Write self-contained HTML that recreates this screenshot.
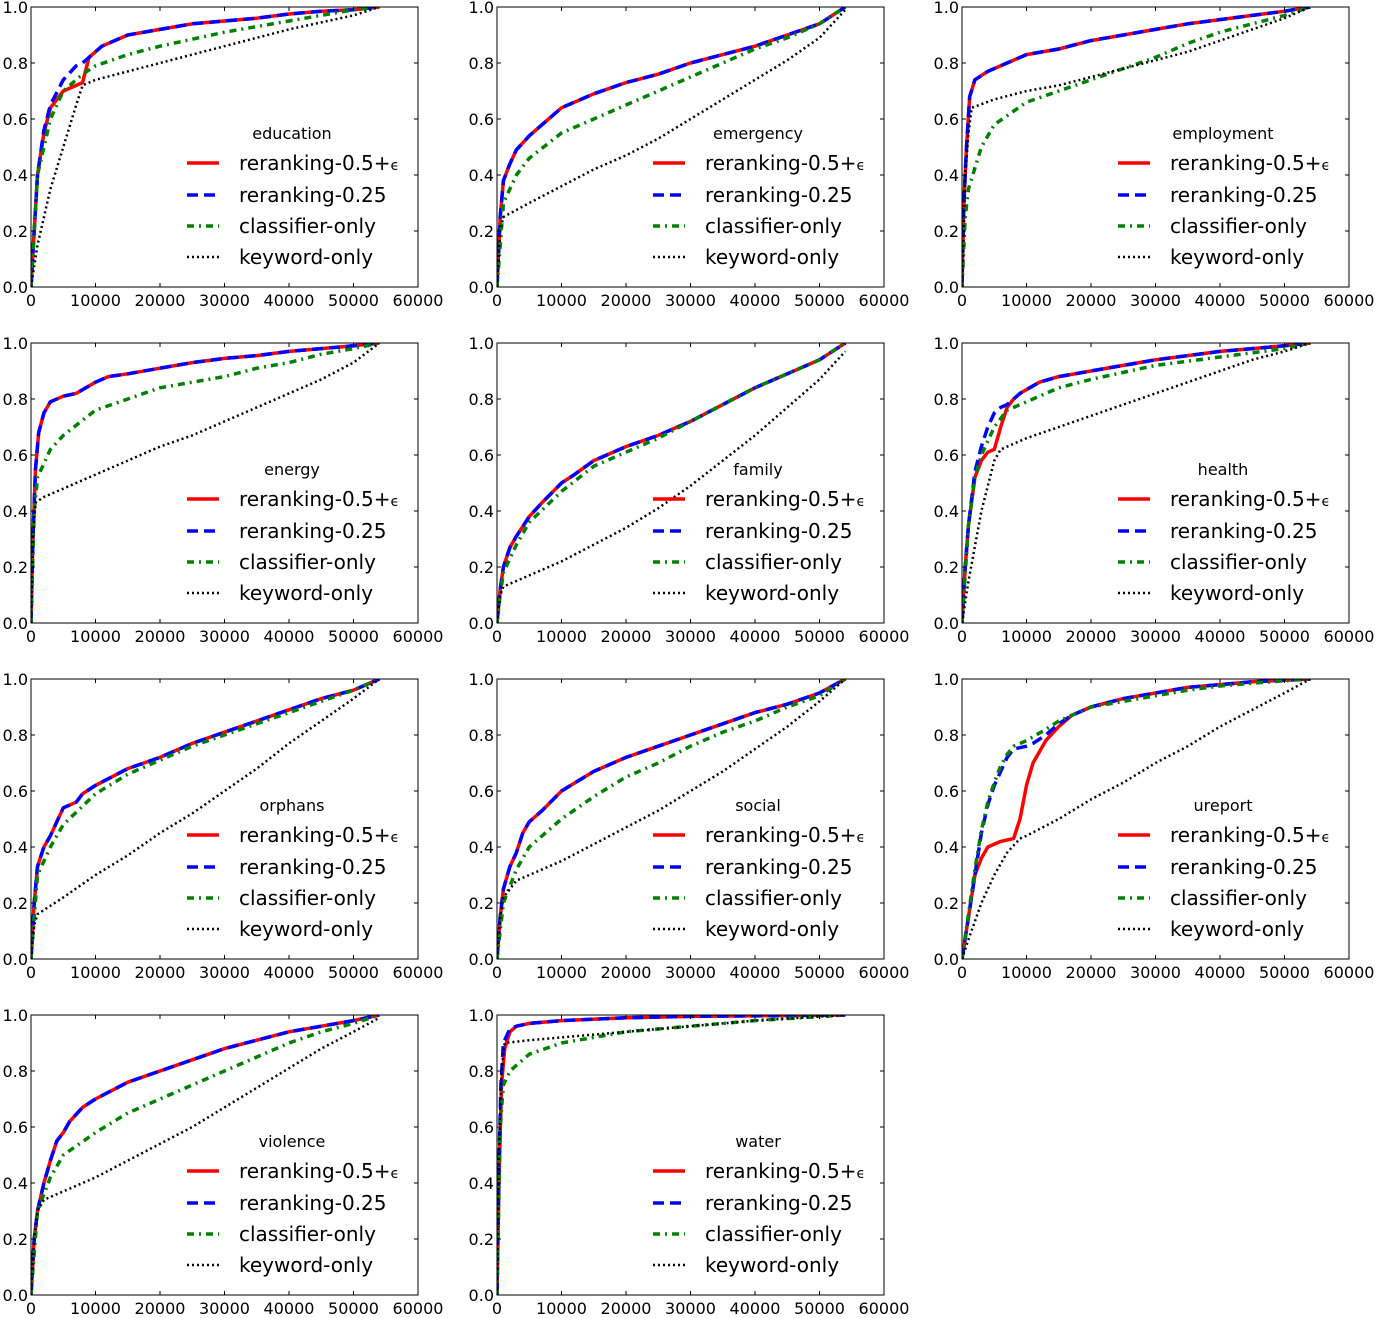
<!DOCTYPE html>
<html><head><meta charset="utf-8"><style>
html,body{margin:0;padding:0;background:#fff;}
svg{display:block;font-family:"DejaVu Sans","Liberation Sans",sans-serif;}
</style></head><body>
<svg id="fig" width="1380" height="1318" viewBox="0 0 1380 1318" xmlns="http://www.w3.org/2000/svg"></svg>
<script>
// Data: [x in thousands, recall]
const eduRed=[[0,0],[0.5,0.2],[1,0.4],[2,0.55],[3,0.64],[5,0.7],[7,0.72],[8,0.73],[9,0.82],[11,0.86],[15,0.9],[20,0.92],[25,0.94],[30,0.95],[35,0.96],[40,0.975],[45,0.985],[50,0.99],[54,1]];
const eduBlue=[[0,0],[0.5,0.2],[1,0.4],[2,0.56],[3,0.65],[5,0.74],[7,0.79],[8,0.8],[9,0.82],[11,0.86],[15,0.9],[20,0.92],[25,0.94],[30,0.95],[35,0.96],[40,0.975],[45,0.985],[50,0.99],[54,1]];
const eduGreen=[[0,0],[1,0.4],[3,0.6],[5,0.7],[8,0.76],[10,0.79],[15,0.83],[20,0.86],[30,0.91],[40,0.95],[50,0.99],[54,1]];
const eduBlack=[[0,0],[1,0.15],[3,0.35],[5,0.5],[7,0.65],[8,0.72],[10,0.74],[15,0.77],[20,0.8],[30,0.86],[40,0.92],[50,0.97],[54,1]];

const emeRed=[[0,0],[0.5,0.25],[1,0.38],[2,0.44],[3,0.49],[5,0.54],[8,0.6],[10,0.64],[15,0.69],[20,0.73],[25,0.76],[30,0.8],[35,0.83],[40,0.86],[45,0.9],[50,0.94],[52,0.97],[54,1]];
const emeBlue=emeRed;
const emeGreen=[[0,0],[1,0.3],[3,0.4],[5,0.46],[10,0.55],[15,0.6],[20,0.65],[25,0.7],[30,0.75],[35,0.8],[40,0.85],[45,0.89],[50,0.94],[54,1]];
const emeBlack=[[0,0],[0.5,0.2],[1,0.25],[5,0.3],[10,0.36],[15,0.42],[20,0.47],[25,0.53],[30,0.6],[35,0.67],[40,0.74],[45,0.81],[50,0.89],[54,0.99]];

const empRed=[[0,0],[0.3,0.3],[0.7,0.5],[1.2,0.68],[2,0.74],[4,0.77],[7,0.8],[10,0.83],[15,0.85],[20,0.88],[25,0.9],[30,0.92],[35,0.94],[40,0.955],[45,0.97],[50,0.985],[54,1]];
const empBlue=empRed;
const empGreen=[[0,0],[0.5,0.25],[1,0.35],[3,0.5],[5,0.58],[10,0.66],[15,0.7],[20,0.74],[25,0.78],[30,0.82],[35,0.87],[40,0.91],[45,0.94],[50,0.97],[54,1]];
const empBlack=[[0,0],[0.5,0.4],[1,0.55],[1.5,0.64],[5,0.67],[10,0.7],[15,0.72],[20,0.75],[25,0.78],[30,0.81],[35,0.84],[40,0.88],[45,0.92],[50,0.96],[54,1]];

const eneRed=[[0,0],[0.3,0.3],[0.7,0.55],[1.2,0.68],[2,0.75],[3,0.79],[5,0.81],[7,0.82],[10,0.86],[12,0.88],[15,0.89],[20,0.91],[25,0.93],[30,0.945],[35,0.955],[40,0.97],[45,0.98],[50,0.99],[54,1]];
const eneBlue=eneRed;
const eneGreen=[[0,0],[0.5,0.4],[1,0.52],[3,0.62],[5,0.67],[10,0.76],[15,0.8],[20,0.84],[25,0.86],[30,0.88],[35,0.91],[40,0.93],[45,0.96],[50,0.98],[54,1]];
const eneBlack=[[0,0],[0.3,0.3],[0.7,0.43],[2,0.45],[5,0.48],[10,0.53],[15,0.58],[20,0.63],[25,0.67],[30,0.72],[35,0.77],[40,0.82],[45,0.87],[50,0.93],[54,1]];

const famRed=[[0,0],[0.5,0.12],[1,0.2],[2,0.27],[3,0.31],[5,0.38],[7,0.43],[10,0.5],[12,0.53],[15,0.58],[20,0.63],[25,0.67],[30,0.72],[35,0.78],[40,0.84],[45,0.89],[50,0.94],[54,1]];
const famBlue=famRed;
const famGreen=[[0,0],[0.5,0.1],[1,0.18],[3,0.28],[5,0.36],[10,0.47],[15,0.56],[20,0.61],[25,0.66],[30,0.72],[35,0.78],[40,0.84],[45,0.89],[50,0.94],[54,1]];
const famBlack=[[0,0],[0.5,0.1],[1,0.13],[5,0.17],[10,0.22],[15,0.28],[20,0.34],[25,0.41],[30,0.49],[35,0.58],[40,0.67],[45,0.77],[50,0.87],[54,0.97]];

const heaRed=[[0,0],[0.5,0.2],[1,0.35],[2,0.52],[3,0.58],[4,0.61],[5,0.62],[6,0.7],[7,0.77],[8,0.8],[9,0.82],[12,0.86],[15,0.88],[20,0.9],[25,0.92],[30,0.94],[35,0.955],[40,0.97],[45,0.98],[50,0.99],[54,1]];
const heaBlue=[[0,0],[0.5,0.2],[1,0.35],[2,0.54],[3,0.63],[4,0.7],[5,0.75],[6,0.77],[7,0.78],[8,0.8],[9,0.82],[12,0.86],[15,0.88],[20,0.9],[25,0.92],[30,0.94],[35,0.955],[40,0.97],[45,0.98],[50,0.99],[54,1]];
const heaGreen=[[0,0],[1,0.35],[2,0.52],[3,0.6],[5,0.7],[7,0.76],[10,0.79],[15,0.84],[20,0.87],[30,0.92],[40,0.95],[50,0.98],[54,1]];
const heaBlack=[[0,0],[1,0.15],[3,0.4],[5,0.58],[6,0.62],[10,0.66],[15,0.7],[20,0.74],[25,0.78],[30,0.82],[35,0.86],[40,0.9],[45,0.94],[50,0.97],[54,1]];

const orpRed=[[0,0],[0.5,0.2],[1,0.33],[2,0.4],[3,0.44],[4,0.49],[5,0.54],[7,0.56],[8,0.59],[10,0.62],[15,0.68],[20,0.72],[25,0.77],[30,0.81],[35,0.85],[40,0.89],[45,0.93],[50,0.96],[54,1]];
const orpBlue=orpRed;
const orpGreen=[[0,0],[1,0.3],[3,0.4],[5,0.48],[10,0.59],[15,0.66],[20,0.71],[25,0.76],[30,0.8],[35,0.84],[40,0.88],[45,0.92],[50,0.96],[54,1]];
const orpBlack=[[0,0],[0.5,0.12],[1,0.16],[5,0.22],[10,0.3],[15,0.37],[20,0.45],[25,0.52],[30,0.6],[35,0.68],[40,0.77],[45,0.85],[50,0.93],[54,1]];

const socRed=[[0,0],[0.5,0.15],[1,0.25],[2,0.33],[3,0.38],[4,0.45],[5,0.49],[7,0.53],[10,0.6],[15,0.67],[20,0.72],[25,0.76],[30,0.8],[35,0.84],[40,0.88],[45,0.91],[50,0.95],[54,1]];
const socBlue=socRed;
const socGreen=[[0,0],[1,0.2],[3,0.32],[5,0.4],[10,0.5],[15,0.58],[20,0.65],[25,0.7],[30,0.76],[35,0.81],[40,0.85],[45,0.9],[50,0.94],[54,1]];
const socBlack=[[0,0],[0.5,0.15],[1,0.22],[3,0.28],[5,0.3],[10,0.35],[15,0.41],[20,0.47],[25,0.53],[30,0.6],[35,0.67],[40,0.75],[45,0.83],[50,0.92],[54,1]];

const ureRed=[[0,0],[1,0.15],[2,0.3],[3,0.36],[4,0.4],[6,0.42],[8,0.43],[9,0.5],[10,0.62],[11,0.7],[13,0.78],[15,0.83],[17,0.87],[20,0.9],[25,0.93],[30,0.95],[35,0.97],[40,0.98],[45,0.99],[54,1]];
const ureBlue=[[0,0],[1,0.15],[2,0.3],[3,0.45],[4,0.55],[5,0.62],[6,0.67],[7,0.72],[8,0.75],[10,0.76],[11,0.77],[13,0.8],[15,0.84],[17,0.87],[20,0.9],[25,0.93],[30,0.95],[35,0.97],[40,0.98],[45,0.99],[54,1]];
const ureGreen=[[0,0],[1,0.16],[2,0.32],[3,0.46],[4,0.56],[5,0.63],[6,0.69],[7,0.73],[8,0.76],[10,0.78],[13,0.82],[15,0.85],[17,0.87],[20,0.9],[25,0.92],[30,0.94],[35,0.96],[40,0.975],[45,0.985],[54,1]];
const ureBlack=[[0,0],[1,0.07],[3,0.2],[5,0.3],[7,0.38],[9,0.43],[10,0.44],[15,0.5],[20,0.57],[25,0.63],[30,0.7],[35,0.76],[40,0.83],[45,0.89],[50,0.95],[54,1]];

const vioRed=[[0,0],[0.5,0.2],[1,0.3],[2,0.4],[3,0.48],[4,0.55],[5,0.58],[6,0.62],[8,0.67],[10,0.7],[15,0.76],[20,0.8],[25,0.84],[30,0.88],[35,0.91],[40,0.94],[45,0.96],[50,0.98],[54,1]];
const vioBlue=vioRed;
const vioGreen=[[0,0],[1,0.3],[3,0.42],[5,0.5],[10,0.58],[15,0.65],[20,0.7],[25,0.75],[30,0.8],[35,0.85],[40,0.9],[45,0.94],[50,0.97],[54,1]];
const vioBlack=[[0,0],[0.5,0.2],[1,0.3],[2,0.34],[5,0.37],[10,0.42],[15,0.48],[20,0.54],[25,0.6],[30,0.67],[35,0.74],[40,0.81],[45,0.88],[50,0.94],[54,0.99]];

const watRed=[[0,0],[0.3,0.4],[0.7,0.75],[1.2,0.88],[2,0.94],[3,0.96],[5,0.97],[10,0.98],[20,0.99],[30,0.995],[54,1]];
const watBlue=[[0,0],[0.3,0.45],[0.6,0.75],[1,0.9],[2,0.95],[3,0.96],[5,0.97],[10,0.98],[20,0.99],[30,0.995],[54,1]];
const watGreen=[[0,0],[0.5,0.6],[1,0.75],[2,0.8],[5,0.86],[10,0.9],[15,0.92],[20,0.94],[30,0.96],[40,0.98],[54,1]];
const watBlack=[[0,0],[0.3,0.5],[0.7,0.8],[1.2,0.9],[5,0.91],[10,0.92],[20,0.94],[30,0.96],[40,0.98],[54,1]];

const panelTitles=["education","emergency","employment","energy","family","health","orphans","social","ureport","violence","water"];
const panelSeries=[
 [eduRed,eduBlue,eduGreen,eduBlack],[emeRed,emeBlue,emeGreen,emeBlack],[empRed,empBlue,empGreen,empBlack],
 [eneRed,eneBlue,eneGreen,eneBlack],[famRed,famBlue,famGreen,famBlack],[heaRed,heaBlue,heaGreen,heaBlack],
 [orpRed,orpBlue,orpGreen,orpBlack],[socRed,socBlue,socGreen,socBlack],[ureRed,ureBlue,ureGreen,ureBlack],
 [vioRed,vioBlue,vioGreen,vioBlack],[watRed,watBlue,watGreen,watBlack]];
const xTicks=[0,10000,20000,30000,40000,50000,60000];
const yTicks=[0.0,0.2,0.4,0.6,0.8,1.0];
const seriesLabels=["reranking-0.5+","reranking-0.25","classifier-only","keyword-only"];

const NS="http://www.w3.org/2000/svg";
const svg=document.getElementById('fig');
const colLeft=[31,497,962], rowTop=[7,343,679,1015], W=387, H=280;
const styles=[
 {c:"#ff0000",w:3.5,d:null},
 {c:"#0000ff",w:3.5,d:"11,6"},
 {c:"#008000",w:3.5,d:"7,5,2,5"},
 {c:"#000000",w:2.5,d:"2,3"}];
const seriesNames=["reranking-05-eps-line","reranking-025-line","classifier-only-line","keyword-only-line"];
function mk(tag,attrs,parent){const e=document.createElementNS(NS,tag);for(const k in attrs)e.setAttribute(k,attrs[k]);(parent||svg).appendChild(e);return e;}

panelTitles.forEach((title,i)=>{
  const L=colLeft[i%3], T=rowTop[Math.floor(i/3)];
  const sx=v=>L+v/60000*W, sy=v=>T+H-v*H;
  const g=mk('g',{});
  
  
  const clip=mk('clipPath',{id:'clip'+i},g);
  mk('rect',{x:L,y:T,width:W,height:H},clip);
  const lines=mk('g',{'clip-path':'url(#clip'+i+')'},g);
  panelSeries[i].forEach((pts,s)=>{
    const st=styles[s];
    const p=mk('polyline',{points:pts.map(q=>sx(q[0]*1000).toFixed(1)+','+sy(q[1]).toFixed(1)).join(' '),fill:'none',stroke:st.c,'stroke-width':st.w,'stroke-linejoin':'round'},lines);
    if(st.d)p.setAttribute('stroke-dasharray',st.d);
    
    
  });
  const frame=mk('rect',{x:L,y:T,width:W,height:H,fill:'none',stroke:'#000','stroke-width':1},g);
  
  
  xTicks.forEach(v=>{
    const x=sx(v);
    mk('line',{x1:x,y1:T+H,x2:x,y2:T+H-4,stroke:'#000'},g);
    mk('line',{x1:x,y1:T,x2:x,y2:T+4,stroke:'#000'},g);
    const t=mk('text',{x:x,y:T+H+19,'font-size':16,'text-anchor':'middle',fill:'#000'},g);
    t.textContent=String(v);
    
    
  });
  yTicks.forEach(v=>{
    const y=sy(v);
    mk('line',{x1:L,y1:y,x2:L+4,y2:y,stroke:'#000'},g);
    mk('line',{x1:L+W,y1:y,x2:L+W-4,y2:y,stroke:'#000'},g);
    const t=mk('text',{x:L-3,y:y+6,'font-size':16,'text-anchor':'end',fill:'#000'},g);
    t.textContent=v.toFixed(1);
    
    
  });
  const lg=mk('g',{},g);
  
  
  const tt=mk('text',{x:L+261,y:T+132,'font-size':16,'text-anchor':'middle',fill:'#000'},lg);
  tt.textContent=title;
  
  
  const rows=[156,188,219,250];
  seriesLabels.forEach((lab,s)=>{
    const st=styles[s], y=T+rows[s];
    const ln=mk('line',{x1:L+156,y1:y,x2:L+188,y2:y,stroke:st.c,'stroke-width':st.w},lg);
    if(st.d)ln.setAttribute('stroke-dasharray',st.d);
    
    
    const t=mk('text',{x:L+208,y:y+7,'font-size':20,fill:'#000'},lg);
    t.textContent=lab;
    if(s===0){const ts=mk('tspan',{'font-size':14},t);ts.textContent='\u03F5';}
    
    
  });
});
</script>
</body></html>
